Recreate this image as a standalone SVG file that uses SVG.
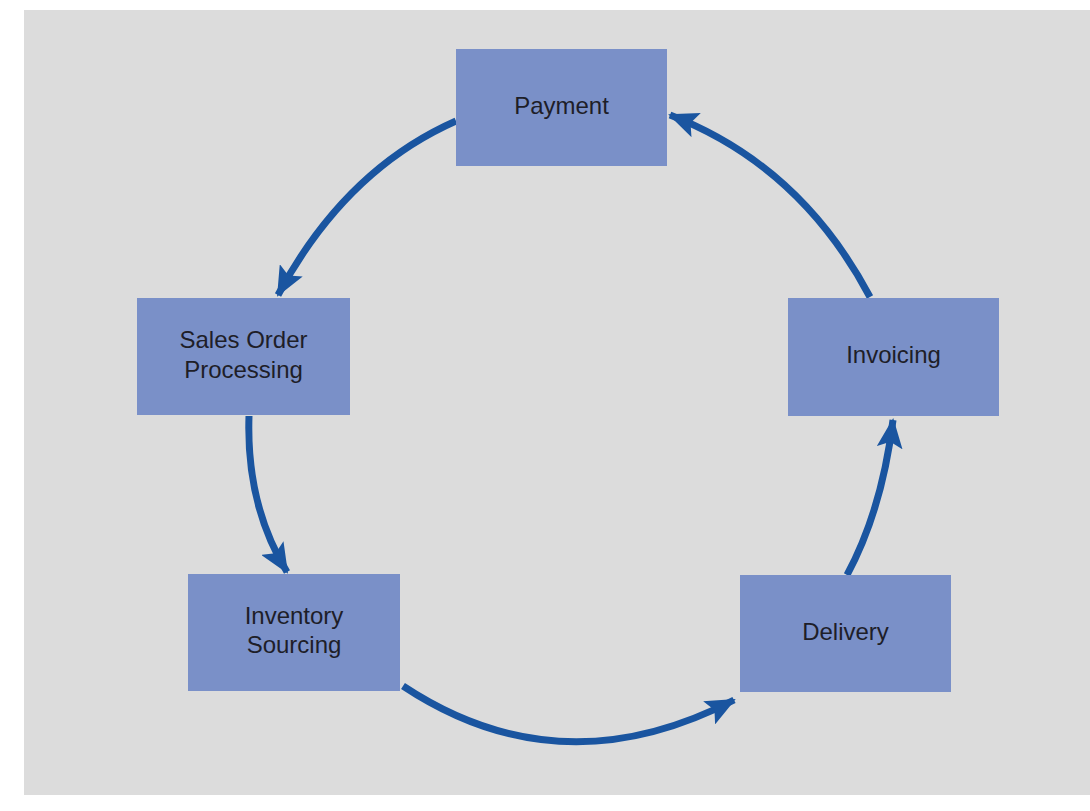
<svg xmlns="http://www.w3.org/2000/svg" width="1090" height="811" viewBox="0 0 1090 811">
<style>
.box{fill:#7a90c8}
.lbl{font-family:"Liberation Sans",Arial,sans-serif;font-size:24px;fill:#1e1e28;text-anchor:middle}
.arr{fill:none;stroke:#1a55a0;stroke-width:7;marker-end:url(#ah)}
</style>
<defs>
<marker id="ah" markerUnits="userSpaceOnUse" markerWidth="30" markerHeight="26" viewBox="0 0 30 26" refX="28" refY="13" orient="auto">
<path d="M0,0 L30,13 L0,26 L6,13 Z" fill="#1a55a0"/>
</marker>
</defs>
<rect width="1090" height="811" fill="#fff"/>
<rect x="24" y="10" width="1066" height="785" fill="#dcdcdc"/>
<g id="connectors">
<path class="arr" d="M456,121 Q345,170 278,295"/>
<path class="arr" d="M249,416 Q246,505 287,572"/>
<path class="arr" d="M403,686 Q560,790 734,700"/>
<path class="arr" d="M847,575 Q882,510 893,420"/>
<path class="arr" d="M870,297 Q800,165 670,115"/>
</g>
<g id="payment"><rect class="box" x="456" y="49" width="211" height="117"/><text class="lbl" x="561.5" y="114">Payment</text></g>
<g id="sales"><rect class="box" x="137" y="298" width="213" height="117"/><text class="lbl" x="243.5" y="348">Sales Order</text><text class="lbl" x="243.5" y="378">Processing</text></g>
<g id="invoicing"><rect class="box" x="788" y="298" width="211" height="118"/><text class="lbl" x="893.5" y="363">Invoicing</text></g>
<g id="inventory"><rect class="box" x="188" y="574" width="212" height="117"/><text class="lbl" x="294" y="624">Inventory</text><text class="lbl" x="294" y="653">Sourcing</text></g>
<g id="delivery"><rect class="box" x="740" y="575" width="211" height="117"/><text class="lbl" x="845.5" y="640">Delivery</text></g>
</svg>
